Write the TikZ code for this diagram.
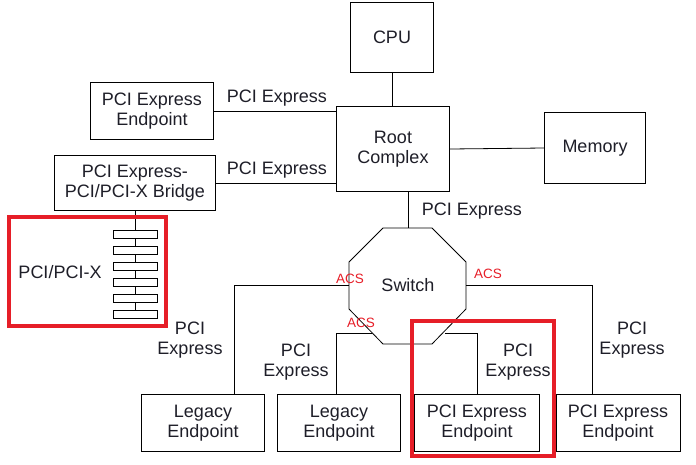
\documentclass[tikz,border=0pt]{standalone}
\usepackage{fontspec}
\setmainfont{Liberation Sans}
\definecolor{hired}{RGB}{230,30,40}
\definecolor{txt}{RGB}{30,30,40}
\begin{document}
\begin{tikzpicture}[x=1pt,y=-1pt,
  box/.style={draw,line width=0.8pt,align=center,inner sep=0pt,font=\fontsize{18}{20}\selectfont,text=txt},
  lbl/.style={align=center,inner sep=0pt,font=\fontsize{18}{20}\selectfont,text=txt},
  acs/.style={text=hired,inner sep=0pt,font=\fontsize{13.5}{14}\selectfont},
  ln/.style={line width=0.8pt},
  hl/.style={draw=hired,line width=4pt}]
\useasboundingbox (0,0) rectangle (696,464);
% boxes
\node[box,minimum width=83,minimum height=70] (cpu) at (392,37) {CPU};
\node[box,minimum width=113,minimum height=85] (rc) at (393,149) {Root\\Complex};
\node[box,minimum width=101,minimum height=71] (mem) at (595,148) {Memory};
\node[box,minimum width=123,minimum height=57] (ep) at (152,111) {PCI Express\\Endpoint};
\node[box,minimum width=161,minimum height=55] (br) at (135,183) {PCI Express-\\PCI/PCI-X Bridge};
\node[box,minimum width=123,minimum height=57] (le1) at (203,423) {Legacy\\Endpoint};
\node[box,minimum width=123,minimum height=57] (le2) at (339,423) {Legacy\\Endpoint};
\node[box,minimum width=125,minimum height=57] (pe1) at (477,423) {PCI Express\\Endpoint};
\node[box,minimum width=124,minimum height=57] (pe2) at (618,423) {PCI Express\\Endpoint};
% switch octagon
\draw[ln] (383,228) -- (432,228) -- (466,262) -- (466,309) -- (432,344) -- (383,344) -- (349,309) -- (349,262) -- cycle;
\node[lbl] (sw) at (408,285) {Switch};
\coordinate (swt) at (408,228);
\coordinate (swl) at (349,285);
\coordinate (swr) at (466,285);
\coordinate (swbl) at (372,333);
\coordinate (swbr) at (445,333);
% connectors
\draw[ln] (cpu.south) -- (cpu.south |- rc.north);
\draw[ln] (ep.east) -- (ep.east -| rc.west);
\draw[ln] (br.east) -- (br.east -| rc.west);
\draw[ln] (rc.east) -- (mem.west);
\draw[ln] (rc.south -| swt) -- (swt);
\draw[ln] (swl) -| (le1.north -| 234,0);
\draw[ln] (swr) -| (pe2.north -| 592,0);
\draw[ln] (swbl) -- (336,333) -- (le2.north -| 336,0);
\draw[ln] (swbr) -- (477,333) -- (pe1.north -| 477,0);
% PCI/PCI-X slots
\foreach \i in {0,...,5}{
  \node[draw,line width=0.8pt,minimum width=44,minimum height=8,inner sep=0pt] (s\i) at (135,234+16*\i) {};
}
\draw[ln] (br.south) -- (s0.north);
\foreach \i [evaluate=\i as \j using int(\i+1)] in {0,...,4}{
  \draw[ln] (s\i.south) -- (s\j.north);
}
\node[lbl] (pcix) at (60,272) {PCI/PCI-X};
% labels
\node[lbl] (l1) at (277,98) {PCI Express};
\node[lbl] (l2) at (277,170) {PCI Express};
\node[lbl] (l3) at (472,211) {PCI Express};
\node[lbl] (l4) at (190,340) {PCI\\Express};
\node[lbl] (l5) at (296,362) {PCI\\Express};
\node[lbl] (l6) at (518,362) {PCI\\Express};
\node[lbl] (l7) at (632,340) {PCI\\Express};
\node[acs] (a1) at (350,279) {ACS};
\node[acs] (a2) at (488,274) {ACS};
\node[acs] (a3) at (361,323) {ACS};
% highlights
\draw[hl] (9,217) rectangle (166,326);
\draw[hl] (412,321) rectangle (554,456);
\end{tikzpicture}
\end{document}
